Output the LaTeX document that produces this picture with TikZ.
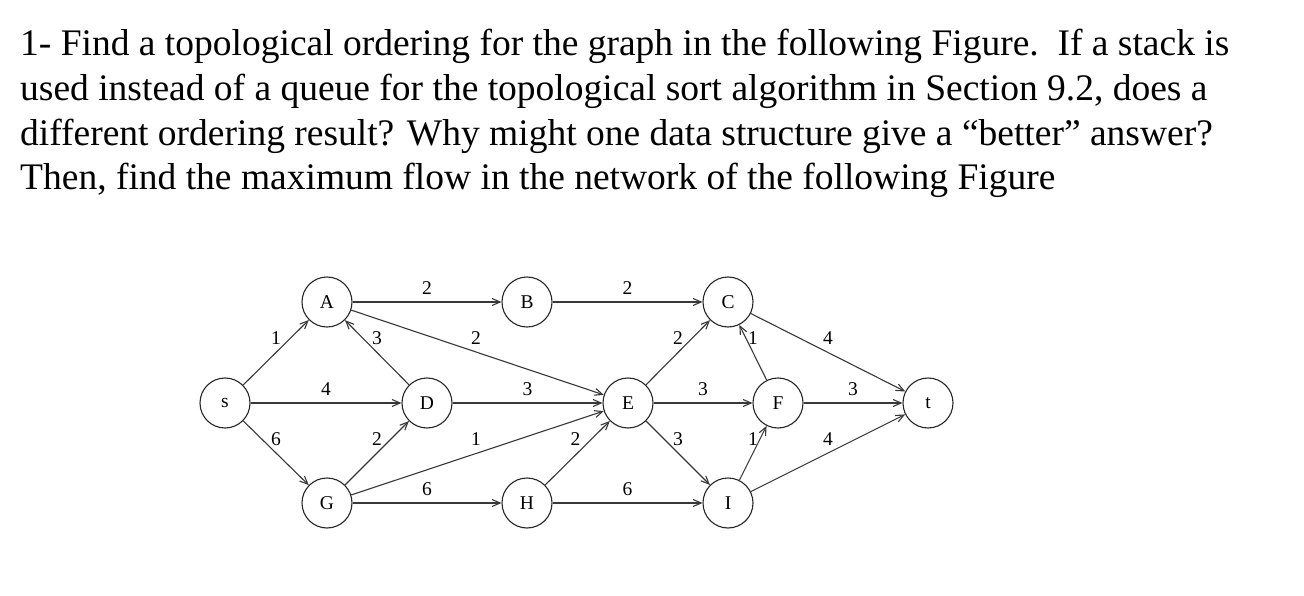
\documentclass[tikz,border=0pt]{standalone}
\usepackage{fontspec}
\setmainfont{Liberation Serif}
\usetikzlibrary{arrows.meta}
\begin{document}
\begin{tikzpicture}[x=1pt,y=-1pt,
  vertex/.style={circle,draw=black!85,line width=1.1pt,minimum size=50pt,inner sep=0pt,font=\fontsize{19.5}{19.5}\selectfont},
  edge/.style={draw=black!78,line width=1.1pt,-{Straight Barb[length=8pt,width=7pt]}},
  lbl/.style={font=\fontsize{19.5}{19.5}\selectfont,inner sep=0pt,pos=0.5,yshift=14pt},
  title/.style={anchor=base west,inner sep=0pt,font=\fontsize{37.5}{45}\selectfont}]
\useasboundingbox[fill=white] (0,0) rectangle (1304,596);
% question text
\node[title] (q1) at (20,56) {1- Find a topological ordering for the graph in the following Figure.\ \ If a stack is};
\node[title] (q2) at (20,101) {used instead of a queue for the topological sort algorithm in Section 9.2, does a};
\node[title] (q3) at (20,146) {different ordering result? Why might one data structure give a “better” answer?};
\node[title] (q4) at (20,190) {Then, find the maximum flow in the network of the following Figure};
% vertices
\node[vertex] (s) at (225,403) {s};
\node[vertex] (A) at (327,302) {A};
\node[vertex] (D) at (427,403) {D};
\node[vertex] (G) at (327,503) {G};
\node[vertex] (B) at (527,302) {B};
\node[vertex] (H) at (527,503) {H};
\node[vertex] (E) at (628,403) {E};
\node[vertex] (C) at (728,302) {C};
\node[vertex] (I) at (728,503) {I};
\node[vertex] (F) at (778,403) {F};
\node[vertex] (t) at (928,403) {t};
% edges
\path[edge] (s) -- node[lbl]{1} (A);
\path[edge] (s) -- node[lbl]{4} (D);
\path[edge] (s) -- node[lbl]{6} (G);
\path[edge] (A) -- node[lbl]{2} (B);
\path[edge] (D) -- node[lbl]{3} (A);
\path[edge] (A) -- node[lbl,xshift=-1.5pt]{2} (E);
\path[edge] (D) -- node[lbl]{3} (E);
\path[edge] (G) -- node[lbl]{2} (D);
\path[edge] (G) -- node[lbl,xshift=-1.5pt]{1} (E);
\path[edge] (G) -- node[lbl]{6} (H);
\path[edge] (B) -- node[lbl]{2} (C);
\path[edge] (H) -- node[lbl,xshift=-2pt]{2} (E);
\path[edge] (H) -- node[lbl]{6} (I);
\path[edge] (E) -- node[lbl]{2} (C);
\path[edge] (E) -- node[lbl]{3} (F);
\path[edge] (E) -- node[lbl]{3} (I);
\path[edge] (F) -- node[lbl]{1} (C);
\path[edge] (I) -- node[lbl]{1} (F);
\path[edge] (C) -- node[lbl]{4} (t);
\path[edge] (F) -- node[lbl]{3} (t);
\path[edge] (I) -- node[lbl]{4} (t);
\end{tikzpicture}
\end{document}
